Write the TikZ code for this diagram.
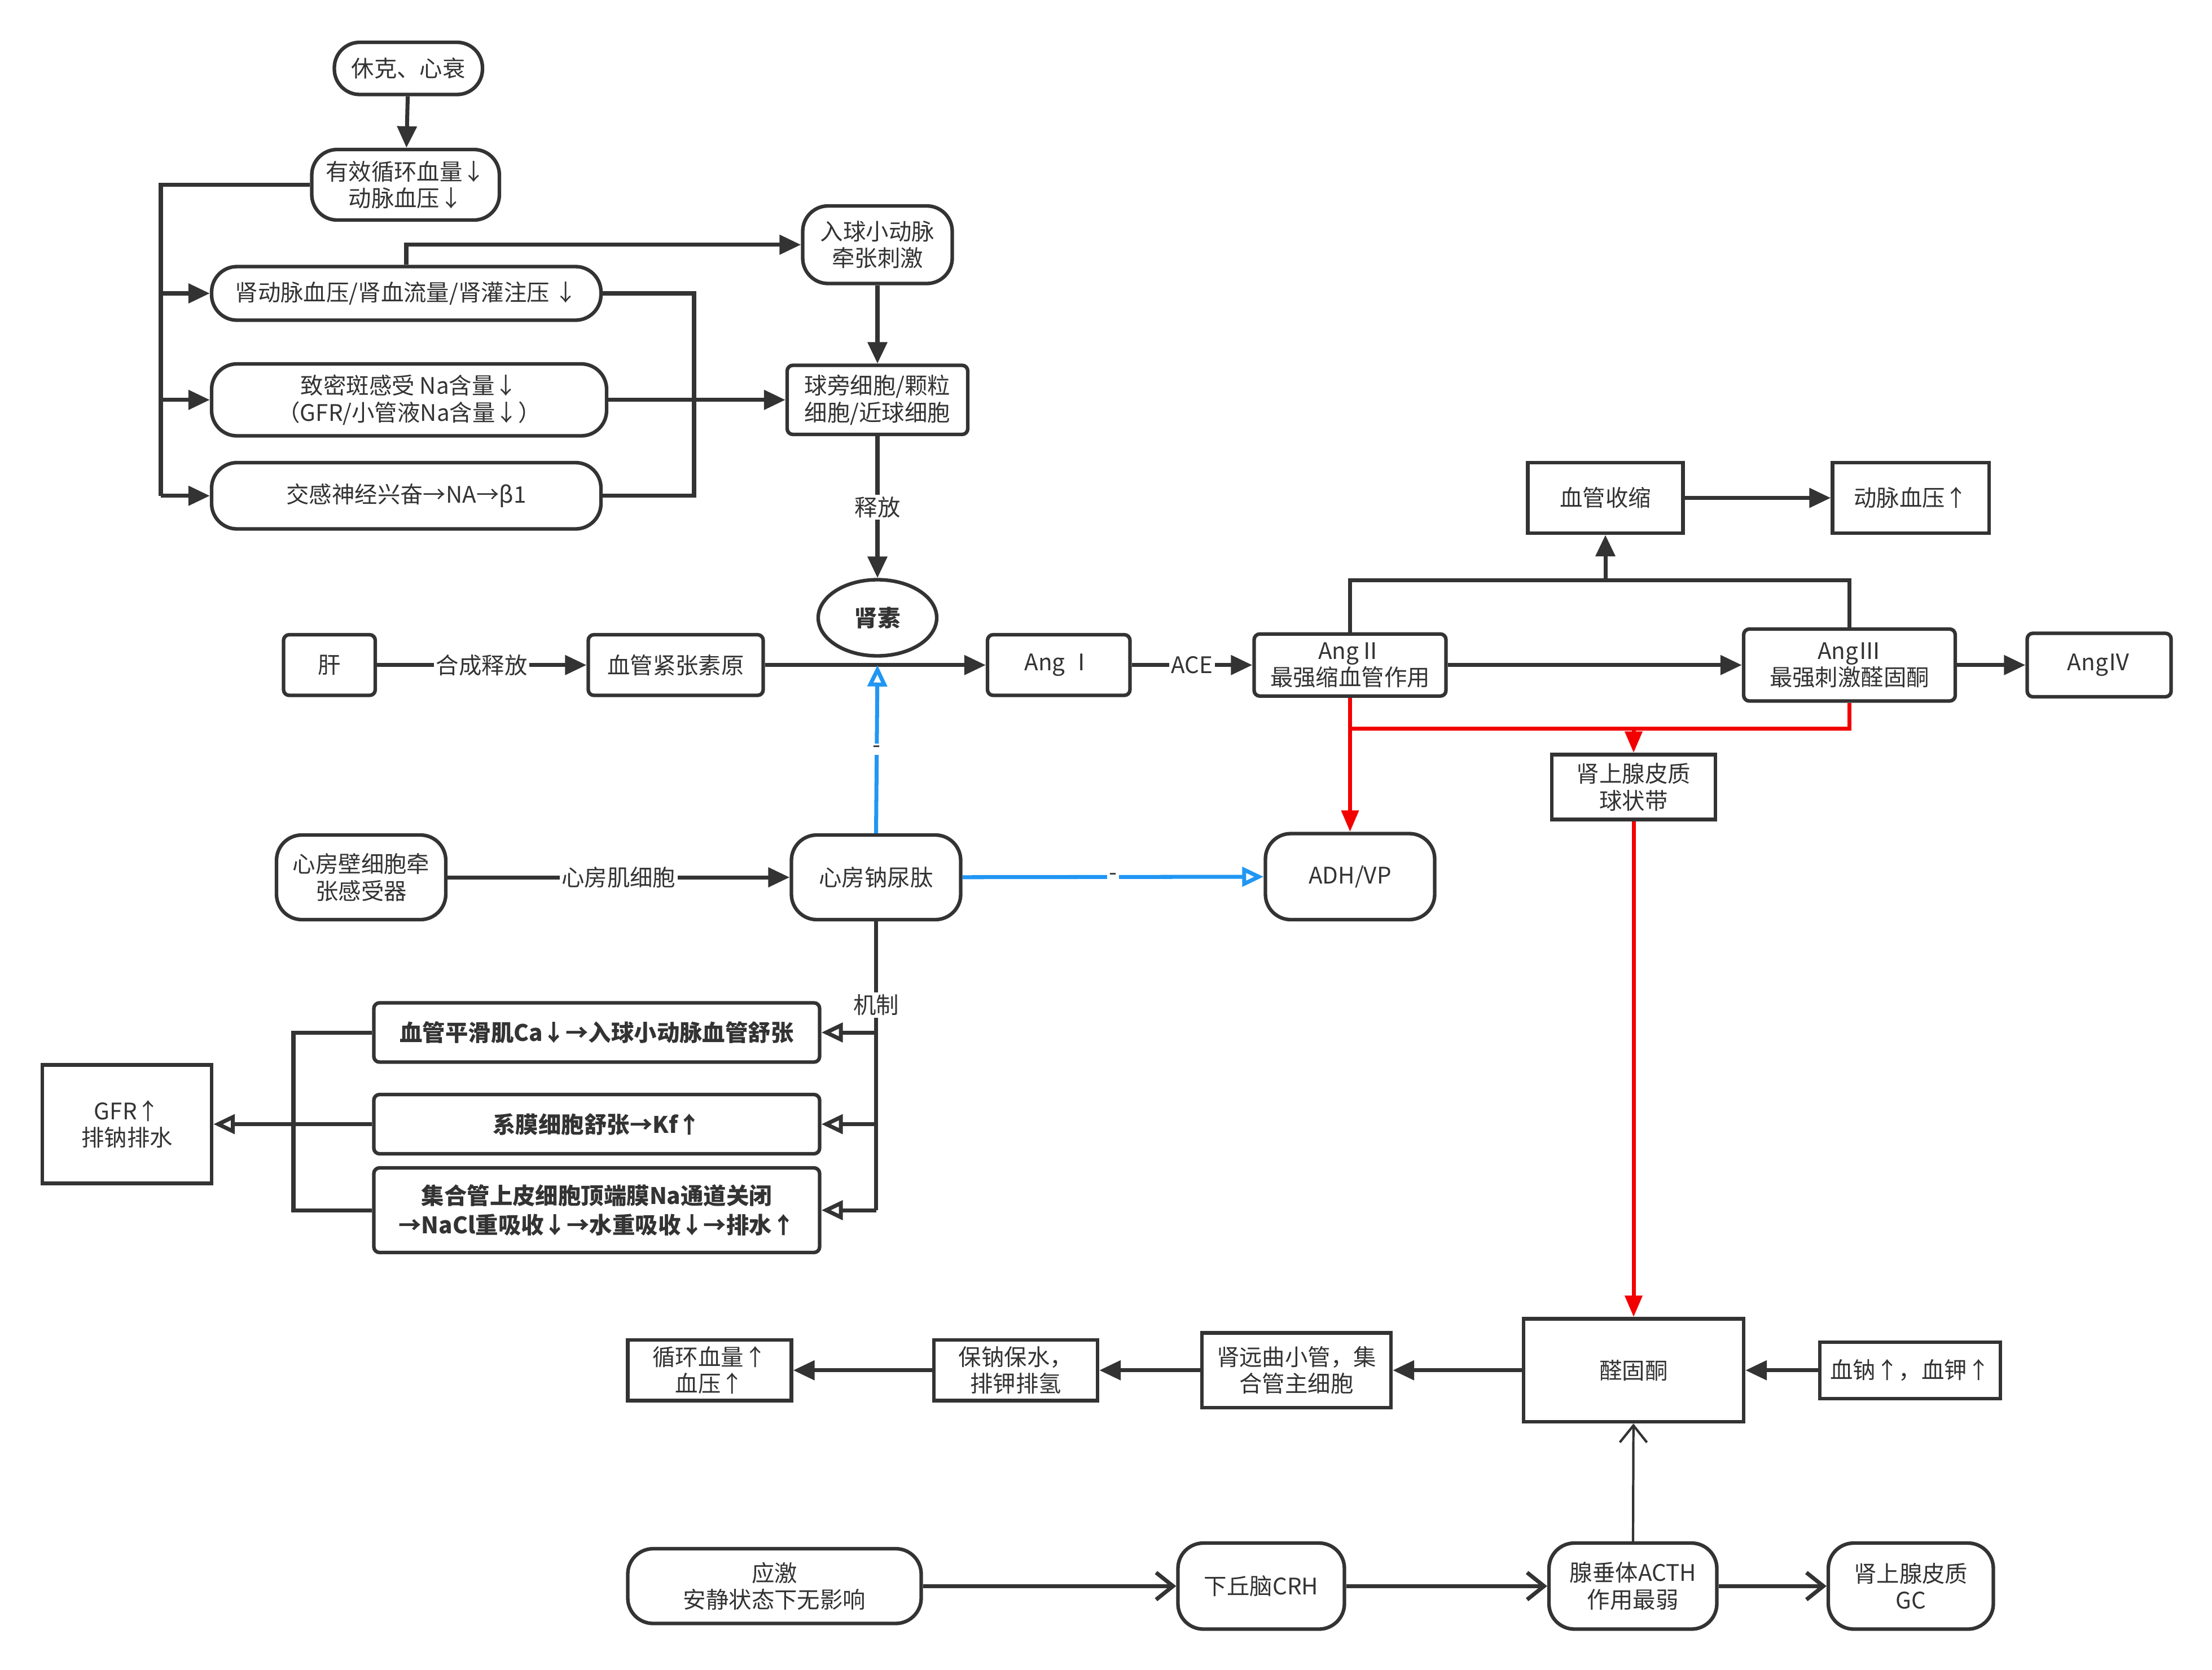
\documentclass[tikz,border=0pt]{standalone}
\usepackage{fontspec}
\setmainfont{Noto Sans CJK SC}
\usetikzlibrary{arrows.meta,shapes.geometric}
\definecolor{dk}{HTML}{333333}
\definecolor{rd}{HTML}{F20000}
\definecolor{bl}{HTML}{2196F3}
\tikzset{
  sz/.style 2 args={minimum width=#1*0.025cm, minimum height=#2*0.025cm},
  base/.style={draw=dk, line width=1.8pt, fill=white, align=center, inner sep=0pt, text=dk,
    font=\fontsize{11.5}{13.5}\selectfont},
  pill/.style={base, rounded corners=0.45cm},
  rbox/.style={base, rounded corners=0.1cm},
  sbox/.style={base},
  ebox/.style={base, ellipse},
  ln/.style={draw=dk, line width=2pt},
  arr/.style={ln, -{Triangle[length=0.38cm,width=0.34cm]}},
  oarr/.style={ln, -{Triangle[open,length=0.38cm,width=0.34cm]}},
  barb/.style={ln, -{Straight Barb[length=0.3cm,width=0.48cm]}},
  rln/.style={draw=rd, line width=2pt},
  rarr/.style={rln, -{Triangle[length=0.38cm,width=0.3cm]}},
  barr/.style={draw=bl, line width=2pt, -{Triangle[open,length=0.38cm,width=0.34cm]}},
  lbl/.style={fill=white, inner sep=1pt, text=dk, font=\fontsize{11.5}{13.5}\selectfont},
}
\begin{document}
\begin{tikzpicture}[x=0.025cm, y=-0.025cm]
\useasboundingbox (0,0) rectangle (1568,1184);
% nodes
\node[pill, sz={105}{37}] (shock) at (289.5,48.5) {休克、心衰};
\node[pill, sz={133}{50}] (eff) at (287.5,131) {有效循环血量↓\\动脉血压↓};
\node[pill, sz={106}{55}] (ru) at (622,173.5) {入球小动脉\\牵张刺激};
\node[pill, sz={276}{38}] (ren) at (288,208) {肾动脉血压/肾血流量/肾灌注压 ↓};
\node[pill, sz={280}{51}] (md) at (290,283.5) {致密斑感受 Na含量↓\\（GFR/小管液Na含量↓）};
\node[pill, sz={276}{47}] (sym) at (288,351.5) {交感神经兴奋→NA→β1};
\node[rbox, sz={128}{49}] (jg) at (622,283.5) {球旁细胞/颗粒\\细胞/近球细胞};
\node[ebox, sz={84}{54}] (renin) at (622,438) {\bfseries 肾素};
\node[rbox, sz={65}{43}] (liver) at (233.5,471.5) {肝};
\node[rbox, sz={124}{43}] (agt) at (479,471.5) {血管紧张素原};
\node[rbox, sz={101}{43}] (ang1) at (750.5,471.5) {Ang Ⅰ};
\node[rbox, sz={136}{44}] (ang2) at (957,471.5) {AngⅡ\\最强缩血管作用};
\node[sbox, sz={110}{50}] (vc) at (1138,353) {血管收缩};
\node[sbox, sz={111}{50}] (abp) at (1354.5,353) {动脉血压↑};
\node[rbox, sz={150}{51}] (ang3) at (1311,471.5) {AngⅢ\\最强刺激醛固酮};
\node[rbox, sz={102}{45}] (ang4) at (1488,471.5) {AngⅣ};
\node[sbox, sz={116}{46}] (zg) at (1158,558) {肾上腺皮质\\球状带};
\node[pill, sz={120}{61}] (adh) at (957,621.5) {ADH/VP};
\node[pill, sz={120}{60}] (atr) at (256,622) {心房壁细胞牵\\张感受器};
\node[pill, sz={120}{60}] (anp) at (621,622) {心房钠尿肽};
\node[rbox, sz={316}{42}, font=\bfseries\fontsize{11.5}{13.5}\selectfont] (m1) at (423,732) {血管平滑肌Ca↓→入球小动脉血管舒张};
\node[rbox, sz={316}{42}, font=\bfseries\fontsize{11.5}{13.5}\selectfont] (m2) at (423,797) {系膜细胞舒张→Kf↑};
\node[rbox, sz={316}{60}, font=\bfseries\fontsize{11.5}{15}\selectfont] (m3) at (423,858) {集合管上皮细胞顶端膜Na通道关闭\\→NaCl重吸收↓→水重吸收↓→排水↑};
\node[sbox, sz={120}{84}] (gfr) at (90,797) {GFR↑\\排钠排水};
\node[sbox, sz={156}{73}] (ald) at (1158,971.5) {醛固酮};
\node[sbox, sz={128}{40}] (nak) at (1354,971.5) {血钠↑，血钾↑};
\node[sbox, sz={134}{53}] (dct) at (919,971.5) {肾远曲小管，集\\合管主细胞};
\node[sbox, sz={116}{43}] (keep) at (720,971.5) {保钠保水，\\排钾排氢};
\node[sbox, sz={116}{43}] (circ) at (503,971.5) {循环血量↑\\血压↑};
\node[pill, sz={208}{53}] (stress) at (549,1124.5) {应激\\安静状态下无影响};
\node[pill, sz={118}{61}] (crh) at (894,1124.5) {下丘脑CRH};
\node[pill, sz={119}{61}] (acth) at (1157.5,1124.5) {腺垂体ACTH\\作用最弱};
\node[pill, sz={117}{61}] (gc) at (1354.5,1124.5) {肾上腺皮质\\GC};
% junction coordinates
\coordinate (busT) at (114,131);
\coordinate (busB) at (114,351.5);
\coordinate (rbT) at (492,208);
\coordinate (rbB) at (492,351.5);
\coordinate (nj) at (622,471.5);
\coordinate (vj) at (1138,411.5);
\coordinate (rj) at (1158,516.5);
\coordinate (mj) at (621,858);
\coordinate (lT) at (208,732);
\coordinate (lB) at (208,858);
% connectors
\draw[arr] (shock) -- (eff);
\draw[ln] (eff.west) -- (busT) -- (busB);
\draw[arr] (busT |- ren) -- (ren.west);
\draw[arr] (busT |- md) -- (md.west);
\draw[arr] (busB) -- (sym.west);
\draw[arr] (ren.north) |- (ru.west);
\draw[ln] (ren.east) -- (rbT) -- (rbB) -- (sym.east);
\draw[arr] (md.east) -- (jg.west);
\draw[arr] (ru) -- (jg);
\draw[arr] (jg) -- node[lbl]{释放} (renin);
\draw[arr] (liver) -- node[lbl]{合成释放} (agt);
\draw[arr] (agt) -- (ang1);
\draw[barr] (anp.north) -- node[lbl]{-} (nj);
\draw[arr] (ang1) -- node[lbl]{ACE} (ang2);
\draw[arr] (ang2) -- (ang3);
\draw[arr] (ang3) -- (ang4);
\draw[ln] (ang2.north) |- (vj);
\draw[ln] (ang3.north) |- (vj);
\draw[arr] (vj) -- (vc.south);
\draw[arr] (vc) -- (abp);
\draw[rarr] (ang2.south) -- (adh.north);
\draw[rln] (ang2.south |- rj) -- (rj);
\draw[rln] (ang3.south) |- (rj);
\draw[rarr] (rj) -- (zg.north);
\draw[rarr] (zg) -- (ald);
\draw[arr] (atr) -- node[lbl]{心房肌细胞} (anp);
\draw[barr] (anp) -- node[lbl]{-} (adh);
\draw[ln] (anp.south) -- node[lbl, pos=0.29]{机制} (mj);
\draw[oarr] (anp.south |- m1) -- (m1.east);
\draw[oarr] (anp.south |- m2) -- (m2.east);
\draw[oarr] (mj) -- (m3.east);
\draw[ln] (m1.west) -- (lT) -- (lB) -- (m3.west);
\draw[ln] (m2.west) -- (lT |- m2);
\draw[oarr] (lT |- m2) -- (gfr.east);
\draw[arr] (nak) -- (ald);
\draw[arr] (ald) -- (dct);
\draw[arr] (dct) -- (keep);
\draw[arr] (keep) -- (circ);
\draw[barb] (stress) -- (crh);
\draw[barb] (crh) -- (acth);
\draw[barb] (acth) -- (gc);
\draw[barb, line width=1.2pt] (acth) -- (ald);
\end{tikzpicture}
\end{document}
